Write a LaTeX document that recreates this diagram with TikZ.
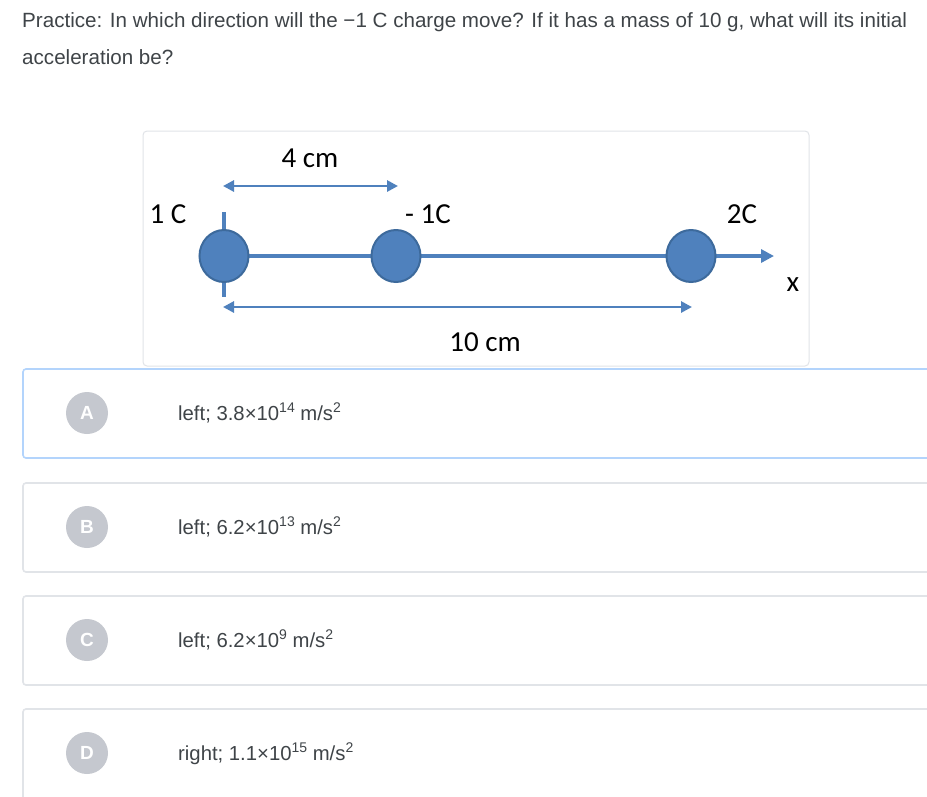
\documentclass[tikz,border=0pt]{standalone}
\usepackage{fontspec}
\setmainfont{Liberation Sans}
\newfontfamily\calib{Carlito}
\usetikzlibrary{arrows.meta,shapes.geometric}
\definecolor{chg}{HTML}{4F81BD}
\definecolor{chgdk}{HTML}{3D6A9C}
\definecolor{txt}{HTML}{3F4448}
\definecolor{bxgray}{HTML}{E1E4E8}
\definecolor{bxblue}{HTML}{B3D4FC}
\definecolor{lettergray}{HTML}{C5C8CF}
\newcommand{\sups}[1]{\raisebox{0.36em}{\fontsize{14}{15}\selectfont #1}}
\tikzset{
  charge/.style={ellipse, minimum width=49pt, minimum height=52pt, fill=chg, draw=chgdk, line width=2pt, inner sep=0pt},
  axisline/.style={draw=chg, line width=3.2pt},
  dim/.style={draw=chg, line width=2.8pt, {Triangle[length=11pt,width=11pt]}-{Triangle[length=11pt,width=11pt]}},
  lbl/.style={font=\calib\fontsize{29}{32}\selectfont, text=black, inner sep=0pt},
  optbox/.style={draw=bxgray, line width=1.6pt, rounded corners=3pt},
  letter/.style={circle, fill=lettergray, minimum size=42pt, inner sep=0pt, text=white, font=\bfseries\fontsize{19}{20}\selectfont},
  qtext/.style={anchor=base west, text=txt, font=\fontsize{20.6}{22}\selectfont, inner sep=0pt},
  opttext/.style={anchor=base west, text=txt, font=\fontsize{20.3}{22}\selectfont, inner sep=0pt},
}
\begin{document}
\begin{tikzpicture}[x=1pt,y=-1pt]
\useasboundingbox (0,0) rectangle (927,796);
\fill[white] (0,0) rectangle (927,796);
% question
\node[qtext] (q1) at (22,27) {Practice: In which direction will the −1 C charge move? If it has a mass of 10 g, what will its initial};
\node[qtext] (q2) at (22,64) {acceleration be?};
% diagram frame
\draw[draw=bxgray, line width=1pt, rounded corners=4pt] (143,131) rectangle (809,366);
% axis
\coordinate (vtop) at (224,212);
\coordinate (vbot) at (224,297);
\draw[axisline] (vtop) -- (vbot);
\coordinate (xstart) at (224,256);
\coordinate (xend) at (774,256);
\draw[axisline, -{Triangle[length=13pt,width=13pt]}] (xstart) -- (xend);
\node[charge] (c1) at (224,256) {};
\node[charge] (c2) at (396,256) {};
\node[charge] (c3) at (691,256) {};
% dimensions
\coordinate (d4a) at (223,186);
\coordinate (d4b) at (398,186);
\draw[dim] (d4a) -- (d4b);
\coordinate (d10a) at (223,307);
\coordinate (d10b) at (692,307);
\draw[dim] (d10a) -- (d10b);
\node[lbl] (l4) at (310,158) {4 cm};
\node[lbl] (l10) at (485,342) {10 cm};
\node[lbl] (lq1) at (168,214) {1 C};
\node[lbl] (lq2) at (428,214) {- 1C};
\node[lbl] (lq3) at (742,214) {2C};
\node[lbl] (lx) at (793,285) {x};
% options
\draw[optbox, draw=bxblue] (23,369) rectangle (940,458);
\draw[optbox] (23,483) rectangle (940,572);
\draw[optbox] (23,596) rectangle (940,685);
\draw[optbox] (23,709) rectangle (940,820);
\node[letter] (la) at (87,413) {A};
\node[letter] (lb) at (87,527) {B};
\node[letter] (lc) at (87,640) {C};
\node[letter] (ld) at (87,753) {D};
\node[opttext] (ta) at (178,420) {left; 3.8×10\sups{14} m/s\sups{2}};
\node[opttext] (tb) at (178,534) {left; 6.2×10\sups{13} m/s\sups{2}};
\node[opttext] (tc) at (178,647) {left; 6.2×10\sups{9} m/s\sups{2}};
\node[opttext] (td) at (178,760) {right; 1.1×10\sups{15} m/s\sups{2}};
\end{tikzpicture}
\end{document}
